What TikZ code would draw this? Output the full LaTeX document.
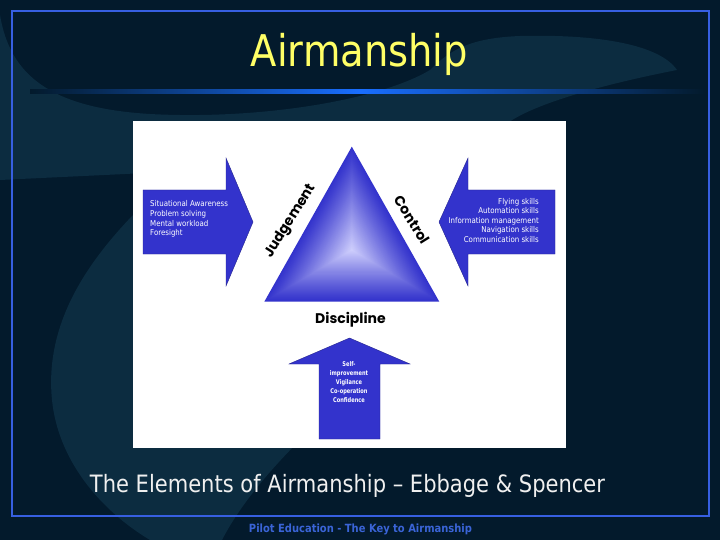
\documentclass[tikz,border=0pt]{standalone}
\usepackage{fontspec}
\usepackage{graphicx}
\newfontfamily\tah[FakeStretch=0.88]{DejaVu Sans}
\newfontfamily\tahb[FakeStretch=0.78]{DejaVu Sans Bold}
\newfontfamily\comic{Poppins}
\definecolor{bg}{RGB}{3,26,44}
\definecolor{swoosh}{RGB}{12,44,64}
\definecolor{framec}{RGB}{55,95,225}
\definecolor{arrowblue}{RGB}{51,51,204}
\definecolor{trilight}{RGB}{205,205,252}
\definecolor{titleyellow}{RGB}{255,255,102}
\definecolor{footblue}{RGB}{58,100,215}
\definecolor{glow}{RGB}{25,110,255}
\begin{document}
\begin{tikzpicture}[x=1pt,y=1pt,
  arrowshape/.style={fill=arrowblue, draw=arrowblue!70!black, line width=0.4pt},
  smalltext/.style={text=white, inner sep=0pt, font=\tah\fontsize{8}{9.4}\selectfont},
  boldsmall/.style={text=white, inner sep=0pt, font=\tahb\fontsize{6.5}{9}\selectfont},
  sidelabel/.style={inner sep=0pt, font=\comic\bfseries\fontsize{14}{17}\selectfont},
]
\useasboundingbox (0,0) rectangle (720,-540);
\fill[bg] (0,0) rectangle (720,-540);
% background swooshes
\fill[swoosh] (0,-15) .. controls (10,-75) and (50,-108) .. (150,-114)
  .. controls (260,-120) and (380,-100) .. (430,-70)
  .. controls (450,-50) and (470,-38) .. (520,-36)
  .. controls (600,-34) and (660,-45) .. (677,-70)
  .. controls (600,-85) and (530,-105) .. (505,-125)
  .. controls (400,-165) and (200,-170) .. (0,-180) -- cycle;
\fill[swoosh] (133,-215) .. controls (80,-270) and (45,-330) .. (52,-400)
  .. controls (58,-460) and (100,-510) .. (150,-540) -- (222,-540)
  .. controls (240,-505) and (270,-470) .. (300,-440) -- (300,-260) -- cycle;
% glow line
\shade[left color=bg, right color=glow] (30,-90) rectangle (360,-94);
\shade[left color=glow, right color=bg] (360,-90) rectangle (705,-94);
% frame
\draw[framec, line width=2pt] (11.5,-11.5) rectangle (708.5,-516);
% white picture area
\fill[white] (133,-121) rectangle (566,-448);
% triangle with bevel shading
\begin{scope}[shift={(351.8,-250)}]
\foreach \i in {0,...,49} {
  \pgfmathsetmacro\s{1-\i/50}
  \pgfmathsetmacro\c{100*(\i/49)^1.1}
  \fill[trilight!\c!arrowblue] (0,103.3*\s) -- (-87.5*\s,-51.7*\s) -- (87.5*\s,-51.7*\s) -- cycle;
}
\end{scope}
% arrows
\path[arrowshape] (143,-190) -- (226,-190) -- (226,-158) -- (253,-222) -- (226,-286) -- (226,-254) -- (143,-254) -- cycle;
\path[arrowshape] (555,-190) -- (468,-190) -- (468,-158) -- (439,-222) -- (468,-286) -- (468,-254) -- (555,-254) -- cycle;
\path[arrowshape] (319,-439) -- (319,-364) -- (289,-364) -- (349.5,-338) -- (410,-364) -- (380,-364) -- (380,-439) -- cycle;
% left arrow text
\node[smalltext, anchor=base west] (l1) at (150,-207) {Situational Awareness};
\node[smalltext, anchor=base west] (l2) at (150,-216.5) {Problem solving};
\node[smalltext, anchor=base west] (l3) at (150,-226) {Mental workload};
\node[smalltext, anchor=base west] (l4) at (150,-235.5) {Foresight};
% right arrow text
\node[smalltext, anchor=base east] (r1) at (539,-204.7) {Flying skills};
\node[smalltext, anchor=base east] (r2) at (539,-214) {Automation skills};
\node[smalltext, anchor=base east] (r3) at (539,-223.5) {Information management};
\node[smalltext, anchor=base east] (r4) at (539,-233) {Navigation skills};
\node[smalltext, anchor=base east] (r5) at (539,-242.4) {Communication skills};
% bottom arrow text
\node[boldsmall, anchor=base] (b1) at (349,-366) {Self-};
\node[boldsmall, anchor=base] (b2) at (349,-375) {improvement};
\node[boldsmall, anchor=base] (b3) at (349,-384) {Vigilance};
\node[boldsmall, anchor=base] (b4) at (349,-393) {Co-operation};
\node[boldsmall, anchor=base] (b5) at (349,-402) {Confidence};
% triangle labels
\node[sidelabel, anchor=base] (disc) at (350.5,-323.3) {Discipline};
\node[sidelabel, rotate=58] (judg) at (290.7,-221) {Judgement};
\node[sidelabel, rotate=-58] (ctrl) at (411.7,-219.7) {Control};
% titles
\node[anchor=base, inner sep=0pt, text=titleyellow] (title) at (359.5,-67)
  {\resizebox{217pt}{!}{\tah Airmanship}};
\node[anchor=base, inner sep=0pt, text=white!94!black] (caption) at (347.5,-492)
  {\resizebox{515pt}{!}{\tah The Elements of Airmanship – Ebbage \& Spencer}};
\node[anchor=base, inner sep=0pt, text=footblue] (footer) at (360.5,-532)
  {\resizebox{223pt}{!}{\tah\bfseries Pilot Education - The Key to Airmanship}};
\end{tikzpicture}
\end{document}
